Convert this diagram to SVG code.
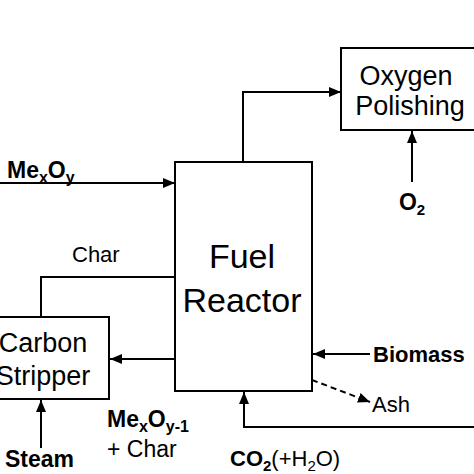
<svg xmlns="http://www.w3.org/2000/svg" width="474" height="474" viewBox="0 0 474 474">
<defs>
<style>
.box{fill:#fff;stroke:#000;stroke-width:2}
.ln{fill:none;stroke:#000;stroke-width:2}
.dash{fill:none;stroke:#000;stroke-width:2;stroke-dasharray:6,4}
.t{font-family:"Liberation Sans",Arial,sans-serif;fill:#000}
.b{font-family:"Liberation Sans",Arial,sans-serif;font-weight:bold;fill:#000}
</style>
<marker id="ah" markerWidth="12" markerHeight="10" refX="12" refY="5" orient="auto" markerUnits="userSpaceOnUse">
<path d="M0,0 L12,5 L0,10 Z" fill="#000"/>
</marker>
</defs>
<rect width="474" height="474" fill="#fff"/>
<g id="connectors">
<path class="ln" d="M243,162 V92 H341" marker-end="url(#ah)"/>
<path class="ln" d="M412,182 V131" marker-end="url(#ah)"/>
<path class="ln" d="M0,183 H175" marker-end="url(#ah)"/>
<path class="ln" d="M41,317 V277 H175"/>
<path class="ln" d="M175,359 H110" marker-end="url(#ah)"/>
<path class="ln" d="M41,448 V400" marker-end="url(#ah)"/>
<path class="ln" d="M370,354 H313" marker-end="url(#ah)"/>
<path class="dash" d="M312,380 L370,402" marker-end="url(#ah)"/>
<path class="ln" d="M474,427 H244 V392" marker-end="url(#ah)"/>
</g>
<g id="fuel-reactor">
<rect class="box" x="175" y="162" width="137" height="229"/>
<text class="t" x="242" y="268" font-size="34" text-anchor="middle">Fuel</text>
<text class="t" x="242" y="312" font-size="34" text-anchor="middle">Reactor</text>
</g>
<g id="oxygen-polishing">
<rect class="box" x="341" y="48" width="140" height="82"/>
<text class="t" x="406" y="85" font-size="27" text-anchor="middle">Oxygen</text>
<text class="t" x="410" y="115" font-size="27" text-anchor="middle">Polishing</text>
</g>
<g id="carbon-stripper">
<rect class="box" x="-10" y="317" width="119" height="82"/>
<text class="t" x="43" y="352" font-size="27" text-anchor="middle">Carbon</text>
<text class="t" x="43" y="385" font-size="27" text-anchor="middle">Stripper</text>
</g>
<g id="labels">
<text class="b" x="7" y="178" font-size="23">Me<tspan font-size="16" dy="5">x</tspan><tspan dy="-5">O</tspan><tspan font-size="16" dy="5">y</tspan></text>
<text class="t" x="72" y="262" font-size="22">Char</text>
<text class="b" x="412" y="210" font-size="23" text-anchor="middle">O<tspan font-size="15" dy="5">2</tspan></text>
<text class="b" x="373" y="362" font-size="22">Biomass</text>
<text class="t" x="372" y="412" font-size="22">Ash</text>
<text class="b" x="107" y="427" font-size="23">Me<tspan font-size="16" dy="5">x</tspan><tspan dy="-5">O</tspan><tspan font-size="16" dy="5">y-1</tspan></text>
<text class="t" x="107" y="457" font-size="23">+ Char</text>
<text class="b" x="5" y="467" font-size="23">Steam</text>
<text class="t" x="230" y="466" font-size="22"><tspan font-weight="bold">CO</tspan><tspan font-weight="bold" font-size="15" dy="5">2</tspan><tspan dy="-5">(+H</tspan><tspan font-size="15" dy="5">2</tspan><tspan dy="-5">O)</tspan></text>
</g>
</svg>
